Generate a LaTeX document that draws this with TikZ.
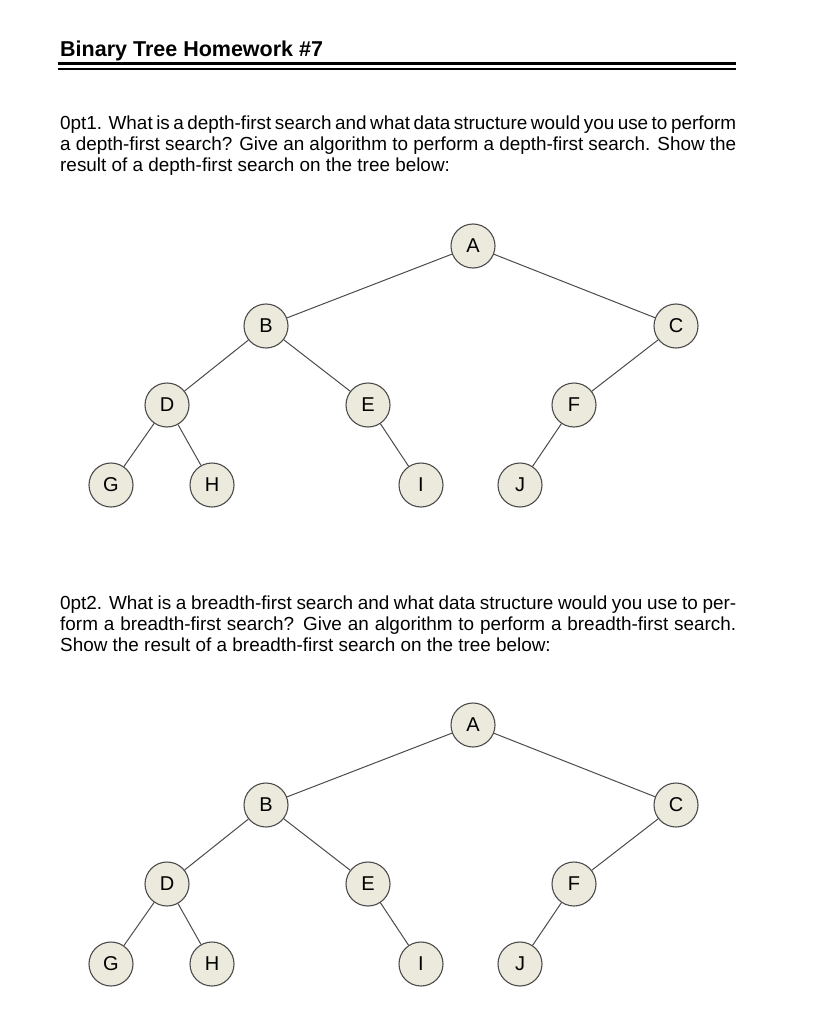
\documentclass[tikz,border=0pt]{standalone}
\usepackage{fontspec}
\setmainfont{Liberation Sans}
\begin{document}
\begin{tikzpicture}[x=1pt,y=-1pt,
  tn/.style={circle,draw=black!70,line width=1.1pt,fill=nodefill,minimum size=44pt,inner sep=0pt,font=\fontsize{20}{20}\selectfont},
  ed/.style={draw=black!70,line width=1pt},
  para/.style={anchor=north west,text width=676pt,align=justify,inner sep=0pt,font=\fontsize{18.9}{21}\selectfont\hyphenpenalty=10000\frenchspacing}]
\definecolor{nodefill}{HTML}{ECEADC}
\useasboundingbox[fill=white] (0,0) rectangle (819,1024);
\node[anchor=base west,inner sep=0pt,font=\bfseries\fontsize{21.5}{21.5}\selectfont] (title) at (60,57) {Binary Tree Homework \#7};
\draw[line width=2.6pt] (58,63.5) -- (736,63.5);
\draw[line width=1.3pt] (58,69) -- (736,69);
\node[para] (q1) at (60,116) {1. What is a depth-first search and what data structure would you use to perform a depth-first search? Give an algorithm to perform a depth-first search. Show the result of a depth-first search on the tree below:};
\node[para] (q2) at (60,596) {2. What is a breadth-first search and what data structure would you use to perform a breadth-first search? Give an algorithm to perform a breadth-first search. Show the result of a breadth-first search on the tree below:};
\foreach \p/\o in {t/0,u/479}{
\begin{scope}[yshift=-\o pt]
\node[tn] (\p A) at (473,246) {A};
\node[tn] (\p B) at (266,326) {B};
\node[tn] (\p C) at (676,326) {C};
\node[tn] (\p D) at (167,405) {D};
\node[tn] (\p E) at (368,405) {E};
\node[tn] (\p F) at (574,405) {F};
\node[tn] (\p G) at (111,485) {G};
\node[tn] (\p H) at (212,485) {H};
\node[tn] (\p I) at (421,485) {I};
\node[tn] (\p J) at (520,485) {J};
\foreach \a/\b in {A/B,A/C,B/D,B/E,C/F,D/G,D/H,E/I,F/J}
  \draw[ed] (\p\a) -- (\p\b);
\end{scope}}
\end{tikzpicture}
\end{document}
